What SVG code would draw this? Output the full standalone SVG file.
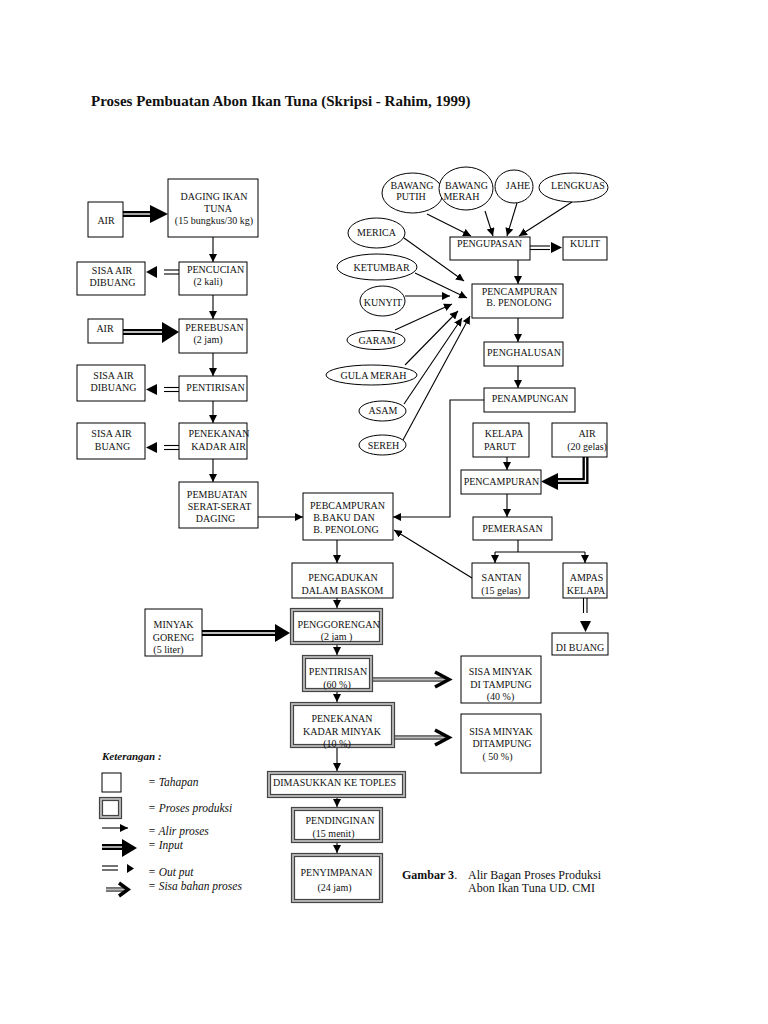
<svg xmlns="http://www.w3.org/2000/svg" width="768" height="1024" viewBox="0 0 768 1024">
<defs>
<marker id="ah" markerUnits="userSpaceOnUse" markerWidth="8" markerHeight="8" refX="8" refY="4" orient="auto"><path d="M0,0 L8,4 L0,8 z" fill="#000"/></marker>
<style>
.box{fill:#fff;stroke:#000;stroke-width:1}
.dbo{fill:#fff;stroke:#444;stroke-width:4.2}
.dbi{fill:none;stroke:#bbb;stroke-width:1.8}
.ov{fill:#fff;stroke:#000;stroke-width:1}
.t{font-family:"Liberation Serif","Times New Roman",serif;font-size:10px;text-anchor:middle;fill:#111}
.lg{font-family:"Liberation Serif","Times New Roman",serif;font-size:11.5px;font-style:italic;fill:#111}
.fl{stroke:#000;stroke-width:1.1;fill:none;marker-end:url(#ah)}
.ln{stroke:#000;stroke-width:1.1;fill:none}
.inb{stroke:#000;stroke-width:6;fill:none;stroke-linejoin:miter}
.ing{stroke:#fff;stroke-width:1.3;fill:none;stroke-linejoin:miter}
.ou{stroke:#000;stroke-width:1.1;fill:none}
.ssb{stroke:#444;stroke-width:4.5;fill:none}
.ssg{stroke:#bbb;stroke-width:2;fill:none}
.chev{stroke:#000;stroke-width:3.5;fill:none;stroke-linejoin:miter}
</style>
</defs>
<rect width="768" height="1024" fill="#fff"/>
<text x="91" y="106" font-family="Liberation Serif, Times New Roman, serif" font-size="15" font-weight="bold" fill="#111">Proses Pembuatan Abon Ikan Tuna (Skripsi - Rahim, 1999)</text>

<g id="connectors">
<line class="fl" x1="213" y1="237" x2="213" y2="262"/>
<line class="fl" x1="213" y1="295" x2="213" y2="319"/>
<line class="fl" x1="213" y1="353" x2="213" y2="376"/>
<line class="fl" x1="213" y1="401" x2="213" y2="423"/>
<line class="fl" x1="213" y1="459" x2="213" y2="482"/>
<line class="fl" x1="258" y1="517" x2="303" y2="517"/>
<line class="inb" x1="123" y1="214" x2="151" y2="214"/><line class="ing" x1="123" y1="214" x2="151" y2="214"/>
<polygon points="150,205 168,214 150,223" fill="#000"/>
<line class="inb" x1="123" y1="332" x2="163" y2="332"/><line class="ing" x1="123" y1="332" x2="163" y2="332"/>
<polygon points="162,322 179,332 162,343" fill="#000"/>
<line class="ou" x1="164" y1="270" x2="179" y2="270"/><line class="ou" x1="164" y1="274" x2="179" y2="274"/>
<polygon points="157,266 146,272 157,278" fill="#000"/>
<line class="ou" x1="164" y1="387.5" x2="179" y2="387.5"/><line class="ou" x1="164" y1="391.5" x2="179" y2="391.5"/>
<polygon points="157,384 146,389.5 157,395" fill="#000"/>
<line class="ou" x1="164" y1="445.5" x2="179" y2="445.5"/><line class="ou" x1="164" y1="449.5" x2="179" y2="449.5"/>
<polygon points="157,442 146,447.5 157,453" fill="#000"/>
<line class="fl" x1="427" y1="214" x2="471" y2="236"/>
<line class="fl" x1="485" y1="211" x2="493" y2="236"/>
<line class="fl" x1="517" y1="203" x2="507" y2="236"/>
<line class="fl" x1="572" y1="202" x2="519" y2="236"/>
<line class="fl" x1="404" y1="238" x2="464" y2="281"/>
<line class="fl" x1="415" y1="273" x2="467" y2="298"/>
<line class="fl" x1="405" y1="296" x2="450" y2="296"/>
<line class="fl" x1="395" y1="330" x2="452" y2="304"/>
<line class="fl" x1="405" y1="365" x2="458" y2="311"/>
<line class="fl" x1="404" y1="404" x2="462" y2="318"/>
<line class="fl" x1="403" y1="440" x2="470" y2="316"/>
<line class="ou" x1="530" y1="246" x2="550" y2="246"/><line class="ou" x1="530" y1="249.5" x2="550" y2="249.5"/>
<polygon points="551,242 562,247.5 551,253" fill="#000"/>
<line class="fl" x1="518" y1="260" x2="518" y2="284"/>
<line class="fl" x1="518" y1="318" x2="518" y2="342"/>
<line class="fl" x1="518" y1="366" x2="518" y2="388"/>
<polyline class="fl" points="484,400 450,400 450,517 393,517"/>
<line class="fl" x1="507" y1="457" x2="507" y2="470"/>
<path class="inb" d="M585.5,457 V481 H556"/><path class="ing" d="M585.5,457 V481 H556"/>
<polygon points="558,473 541,481.5 558,490" fill="#000"/>
<line class="fl" x1="507" y1="494" x2="507" y2="517"/>
<polyline class="ln" points="518,540 518,552"/>
<line class="ln" x1="495" y1="552" x2="585" y2="552"/>
<line class="fl" x1="495" y1="552" x2="495" y2="563"/>
<line class="fl" x1="585" y1="552" x2="585" y2="563"/>
<line class="fl" x1="472" y1="578" x2="394" y2="530"/>
<line class="ou" x1="583.5" y1="598" x2="583.5" y2="613"/><line class="ou" x1="587" y1="598" x2="587" y2="613"/>
<polygon points="580,621 591,621 585.5,632" fill="#000"/>
<line class="fl" x1="337" y1="540" x2="337" y2="563"/>
<line class="fl" x1="337" y1="598" x2="337" y2="608"/>
<line class="fl" x1="337" y1="645" x2="337" y2="655"/>
<line class="fl" x1="337" y1="692" x2="337" y2="702"/>
<line class="fl" x1="337" y1="748" x2="337" y2="771"/>
<line class="fl" x1="337" y1="798" x2="337" y2="807"/>
<line class="fl" x1="337" y1="843" x2="337" y2="853"/>
<line class="inb" x1="202" y1="633" x2="277" y2="633"/><line class="ing" x1="202" y1="633" x2="277" y2="633"/>
<polygon points="275,624 290,633 275,642" fill="#000"/>
<line class="ssb" x1="373" y1="679.5" x2="446" y2="679.5"/><line class="ssg" x1="373" y1="679.5" x2="446" y2="679.5"/>
<polyline class="chev" points="435,672 449,679.5 435,687"/>
<line class="ssb" x1="395" y1="737.5" x2="446" y2="737.5"/><line class="ssg" x1="395" y1="737.5" x2="446" y2="737.5"/>
<polyline class="chev" points="435,730 449,737.5 435,745"/>
</g>

<g id="n-air1"><rect class="box" x="88" y="202" width="35" height="35"/><text class="t" x="106" y="224">AIR</text></g>
<g id="n-daging"><rect class="box" x="168" y="179" width="90" height="58"/><text class="t" x="214" y="200">DAGING IKAN</text><text class="t" x="218" y="212">TUNA</text><text class="t" x="214" y="224">(15 bungkus/30 kg)</text></g>
<g id="n-sisa1"><rect class="box" x="77" y="262" width="68" height="33"/><text class="t" x="112" y="274">SISA AIR</text><text class="t" x="112.5" y="286">DIBUANG</text></g>
<g id="n-pencucian"><rect class="box" x="179" y="262" width="68" height="33"/><text class="t" x="215.5" y="273">PENCUCIAN</text><text class="t" x="208" y="285">(2 kali)</text></g>
<g id="n-air2"><rect class="box" x="88" y="319" width="35" height="24"/><text class="t" x="105" y="332">AIR</text></g>
<g id="n-perebusan"><rect class="box" x="179" y="319" width="68" height="34"/><text class="t" x="214.5" y="331">PEREBUSAN</text><text class="t" x="208" y="343">(2 jam)</text></g>
<g id="n-sisa2"><rect class="box" x="77" y="365" width="68" height="36"/><text class="t" x="113.5" y="379">SISA AIR</text><text class="t" x="113.5" y="391">DIBUANG</text></g>
<g id="n-pentirisan1"><rect class="box" x="179" y="376" width="68" height="25"/><text class="t" x="215.5" y="391">PENTIRISAN</text></g>
<g id="n-sisa3"><rect class="box" x="77" y="423" width="68" height="36"/><text class="t" x="111.5" y="437">SISA AIR</text><text class="t" x="112.5" y="450">BUANG</text></g>
<g id="n-penekanan1"><rect class="box" x="179" y="423" width="68" height="36"/><text class="t" x="219" y="437">PENEKANAN</text><text class="t" x="218.5" y="450">KADAR AIR</text></g>
<g id="n-pembuatan"><rect class="box" x="179" y="482" width="79" height="46"/><text class="t" x="217" y="498">PEMBUATAN</text><text class="t" x="219.5" y="510">SERAT-SERAT</text><text class="t" x="215.5" y="522">DAGING</text></g>

<g id="n-bputih"><ellipse class="ov" cx="412.5" cy="193" rx="30.5" ry="20"/><text class="t" x="412" y="189">BAWANG</text><text class="t" x="411" y="200">PUTIH</text></g>
<g id="n-bmerah"><ellipse class="ov" cx="466" cy="188.5" rx="27" ry="21.5"/><text class="t" x="466.5" y="189">BAWANG</text><text class="t" x="461.5" y="200">MERAH</text></g>
<g id="n-jahe"><ellipse class="ov" cx="514" cy="186.5" rx="19" ry="16.5"/><text class="t" x="518" y="189">JAHE</text></g>
<g id="n-lengkuas"><ellipse class="ov" cx="573.5" cy="187.5" rx="34.5" ry="14.5"/><text class="t" x="578" y="189">LENGKUAS</text></g>
<g id="n-merica"><ellipse class="ov" cx="376.5" cy="233" rx="28.5" ry="15"/><text class="t" x="376.5" y="236">MERICA</text></g>
<g id="n-ketumbar"><ellipse class="ov" cx="377" cy="267" rx="40" ry="13"/><text class="t" x="381.5" y="271">KETUMBAR</text></g>
<g id="n-kunyit"><ellipse class="ov" cx="382.5" cy="301" rx="22.5" ry="15"/><text class="t" x="383" y="306">KUNYIT</text></g>
<g id="n-garam"><ellipse class="ov" cx="376" cy="340" rx="29" ry="9.5"/><text class="t" x="377" y="344">GARAM</text></g>
<g id="n-gula"><ellipse class="ov" cx="371.5" cy="375" rx="45.5" ry="10"/><text class="t" x="373.5" y="379">GULA MERAH</text></g>
<g id="n-asam"><ellipse class="ov" cx="382.5" cy="411" rx="23.5" ry="10"/><text class="t" x="383" y="414">ASAM</text></g>
<g id="n-sereh"><ellipse class="ov" cx="382.5" cy="445" rx="23.5" ry="10"/><text class="t" x="383.5" y="449">SEREH</text></g>
<g id="n-pengupasan"><rect class="box" x="450" y="237" width="80" height="23"/><text class="t" x="489.5" y="247">PENGUPASAN</text></g>
<g id="n-kulit"><rect class="box" x="563" y="237" width="44" height="23"/><text class="t" x="585" y="247">KULIT</text></g>
<g id="n-pencampuran1"><rect class="box" x="472" y="284" width="91" height="34"/><text class="t" x="519.5" y="295">PENCAMPURAN</text><text class="t" x="519" y="306">B. PENOLONG</text></g>
<g id="n-penghalusan"><rect class="box" x="484" y="342" width="79" height="24"/><text class="t" x="524" y="356">PENGHALUSAN</text></g>
<g id="n-penampungan"><rect class="box" x="484" y="388" width="91" height="24"/><text class="t" x="530" y="402">PENAMPUNGAN</text></g>
<g id="n-kelapa"><rect class="box" x="473" y="423" width="56" height="34"/><text class="t" x="504" y="437">KELAPA</text><text class="t" x="500" y="450">PARUT</text></g>
<g id="n-air3"><rect class="box" x="552" y="423" width="55" height="34"/><text class="t" x="587" y="437">AIR</text><text class="t" x="587" y="450">(20 gelas)</text></g>
<g id="n-pencampuran2"><rect class="box" x="461" y="470" width="80" height="24"/><text class="t" x="501.5" y="485">PENCAMPURAN</text></g>
<g id="n-pemerasan"><rect class="box" x="473" y="517" width="79" height="23"/><text class="t" x="512.5" y="532">PEMERASAN</text></g>
<g id="n-santan"><rect class="box" x="472" y="563" width="57" height="35"/><text class="t" x="501.5" y="581">SANTAN</text><text class="t" x="501" y="594">(15 gelas)</text></g>
<g id="n-ampas"><rect class="box" x="563" y="563" width="44" height="35"/><text class="t" x="586.5" y="581">AMPAS</text><text class="t" x="586" y="594">KELAPA</text></g>
<g id="n-dibuang"><rect class="box" x="552" y="633" width="56" height="22"/><text class="t" x="580" y="651">DI BUANG</text></g>
<g id="n-pebcampuran"><rect class="box" x="303" y="493" width="90" height="47"/><text class="t" x="347.5" y="509">PEBCAMPURAN</text><text class="t" x="344" y="521">B.BAKU DAN</text><text class="t" x="346" y="533">B. PENOLONG</text></g>
<g id="n-pengadukan"><rect class="box" x="292" y="563" width="101" height="35"/><text class="t" x="343" y="581">PENGADUKAN</text><text class="t" x="342.5" y="594">DALAM BASKOM</text></g>
<g id="n-minyak"><rect class="box" x="145" y="609" width="57" height="47"/><text class="t" x="173.5" y="628">MINYAK</text><text class="t" x="173.5" y="641">GORENG</text><text class="t" x="168.5" y="653">(5 liter)</text></g>
<g id="n-penggorengan"><rect class="dbo" x="292" y="610" width="89" height="33"/><rect class="dbi" x="292" y="610" width="89" height="33"/><text class="t" x="338.5" y="628">PENGGORENGAN</text><text class="t" x="336.5" y="640">(2 jam )</text></g>
<g id="n-pentirisan2"><rect class="dbo" x="304" y="657" width="67" height="33"/><rect class="dbi" x="304" y="657" width="67" height="33"/><text class="t" x="338" y="675">PENTIRISAN</text><text class="t" x="337" y="688">(60 %)</text></g>
<g id="n-sisaminyak1"><rect class="box" x="461" y="656" width="80" height="47"/><text class="t" x="500.5" y="675">SISA MINYAK</text><text class="t" x="501" y="688">DI TAMPUNG</text><text class="t" x="500.5" y="700">(40 %)</text></g>
<g id="n-penekanan2"><rect class="dbo" x="292" y="704" width="101" height="42"/><rect class="dbi" x="292" y="704" width="101" height="42"/><text class="t" x="342" y="722">PENEKANAN</text><text class="t" x="342" y="735">KADAR MINYAK</text><text class="t" x="337" y="747">(10 %)</text></g>
<g id="n-sisaminyak2"><rect class="box" x="461" y="714" width="80" height="59"/><text class="t" x="501" y="735">SISA MINYAK</text><text class="t" x="502" y="747">DITAMPUNG</text><text class="t" x="497.5" y="760">( 50 %)</text></g>
<g id="n-dimasukkan"><rect class="dbo" x="269" y="773" width="135" height="23"/><rect class="dbi" x="269" y="773" width="135" height="23"/><text class="t" x="334.5" y="786">DIMASUKKAN KE TOPLES</text></g>
<g id="n-pendinginan"><rect class="dbo" x="293" y="809" width="88" height="32"/><rect class="dbi" x="293" y="809" width="88" height="32"/><text class="t" x="340" y="824">PENDINGINAN</text><text class="t" x="333.5" y="837">(15 menit)</text></g>
<g id="n-penyimpanan"><rect class="dbo" x="293" y="855" width="88" height="46"/><rect class="dbi" x="293" y="855" width="88" height="46"/><text class="t" x="336.5" y="876">PENYIMPANAN</text><text class="t" x="334.5" y="891">(24 jam)</text></g>

<g id="caption" font-family="Liberation Serif, Times New Roman, serif" font-size="12" fill="#111">
<text x="402" y="879"><tspan font-weight="bold">Gambar 3</tspan>.</text>
<text x="468" y="879">Alir Bagan Proses Produksi</text>
<text x="468" y="892">Abon Ikan Tuna UD. CMI</text>
</g>

<g id="legend">
<text x="102" y="760" font-family="Liberation Serif, Times New Roman, serif" font-size="11" font-weight="bold" font-style="italic" fill="#111">Keterangan  :</text>
<rect class="box" x="102" y="773" width="19" height="19"/>
<text class="lg" x="148" y="786">= Tahapan</text>
<rect class="dbo" x="101" y="799" width="19" height="18"/><rect class="dbi" x="101" y="799" width="19" height="18"/>
<text class="lg" x="148" y="812">= Proses produksi</text>
<line class="fl" x1="102" y1="828" x2="128" y2="828"/>
<text class="lg" x="148" y="835">= Alir proses</text>
<line class="inb" x1="102" y1="847" x2="123" y2="847"/><line class="ing" x1="102" y1="847" x2="123" y2="847"/>
<polygon points="122,839 137,848 122,857" fill="#000"/>
<text class="lg" x="148" y="849">= Input</text>
<line class="ou" x1="102" y1="866" x2="118" y2="866"/><line class="ou" x1="102" y1="870" x2="118" y2="870"/>
<polygon points="127,864 134,868.5 127,873" fill="#000"/>
<text class="lg" x="148" y="876">= Out put</text>
<line class="ssb" x1="106" y1="889.5" x2="125" y2="889.5"/><line class="ssg" x1="106" y1="889.5" x2="125" y2="889.5"/>
<polyline class="chev" points="119,883 128,889.5 119,896"/>
<text class="lg" x="148" y="890">= Sisa bahan proses</text>
</g>
</svg>
